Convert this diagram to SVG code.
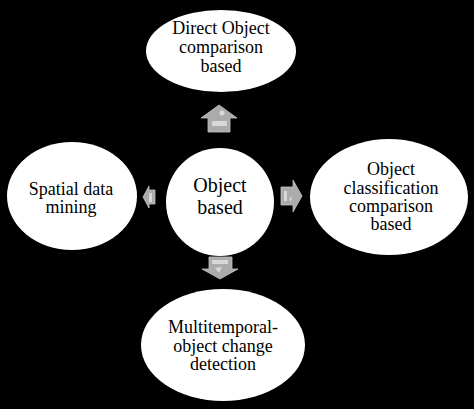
<svg xmlns="http://www.w3.org/2000/svg" width="474" height="409" viewBox="0 0 474 409">
<style>
.node{fill:#ffffff;stroke:none}
.t{font-family:"Liberation Serif","Times New Roman",serif;font-size:18px;fill:#000;text-anchor:middle}
.tc{font-size:20px}
.arr{fill:#ababab;stroke:#c4c4c4;stroke-width:0.8}
.hl{fill:#d8d8d8}
</style>
<rect x="0" y="0" width="474" height="409" fill="#000"/>
<g id="connectors">
<g id="arrow-up">
<polygon class="arr" points="219,105 237,118 230,118 230,132 208,132 208,118 201,118"/>
<rect class="hl" x="212" y="121" width="15" height="5"/>
<circle class="hl" cx="222" cy="113" r="2.5"/>
</g>
<g id="arrow-down">
<polygon class="arr" points="209,257 232,257 232,269 238,269 220,279 202,269 209,269"/>
<rect class="hl" x="212" y="260" width="16" height="4"/>
<polygon class="hl" points="215,268 222,267 219,273"/>
</g>
<g id="arrow-left">
<polygon class="arr" points="143,197 149,186 149,190 155,190 155,204 149,204 149,208"/>
<rect class="hl" x="149" y="193" width="3" height="9"/>
</g>
<g id="arrow-right">
<polygon class="arr" points="281,187 293,187 293,180 302,196 293,212 293,205 281,205"/>
<rect class="hl" x="284" y="191" width="3" height="10"/>
<polygon class="hl" points="289,199 292,196 291,202"/>
</g>
</g>
<g id="node-center">
<circle class="node" cx="220" cy="202" r="54"/>
<text class="t tc" x="220" y="192">Object</text>
<text class="t tc" x="220" y="214">based</text>
</g>
<g id="node-top">
<ellipse class="node" cx="221" cy="51" rx="75" ry="41"/>
<text class="t" x="221" y="34">Direct Object</text>
<text class="t" x="221" y="53">comparison</text>
<text class="t" x="221" y="72">based</text>
</g>
<g id="node-left">
<ellipse class="node" cx="72" cy="196" rx="65" ry="54"/>
<text class="t" x="71" y="195">Spatial data</text>
<text class="t" x="71" y="213">mining</text>
</g>
<g id="node-right">
<ellipse class="node" cx="389" cy="197" rx="79" ry="58"/>
<text class="t" x="391" y="175">Object</text>
<text class="t" x="391" y="194">classification</text>
<text class="t" x="391" y="212">comparison</text>
<text class="t" x="391" y="230">based</text>
</g>
<g id="node-bottom">
<ellipse class="node" cx="223" cy="345" rx="82" ry="56"/>
<text class="t" x="223" y="333">Multitemporal-</text>
<text class="t" x="223" y="352">object change</text>
<text class="t" x="223" y="370">detection</text>
</g>
</svg>
